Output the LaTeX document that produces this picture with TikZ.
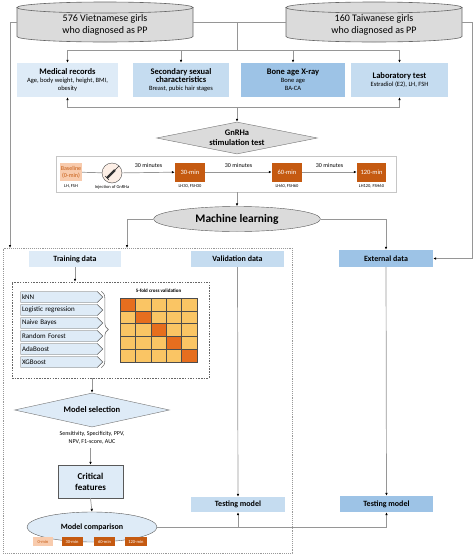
\documentclass[tikz,border=0pt]{standalone}
\usepackage{fontspec}
\setmainfont{Carlito}
\usetikzlibrary{shapes.geometric,shapes.symbols,arrows.meta,positioning,decorations.pathreplacing}
\definecolor{lblue}{RGB}{222,235,247}
\definecolor{mblue}{RGB}{197,220,240}
\definecolor{dblue}{RGB}{157,195,230}
\definecolor{lorange}{RGB}{248,203,173}
\definecolor{dorange}{RGB}{197,90,17}
\definecolor{cellfill}{RGB}{250,197,100}
\definecolor{celldiag}{RGB}{230,110,30}
\definecolor{linegrey}{RGB}{150,150,150}
\newcommand{\boxtitle}[1]{{\bfseries\fontsize{8.5}{10}\selectfont #1}}
\tikzset{
  cylpart/.style   = {draw=black!60, fill=gray!28, line width=0.6pt},
  cohort/.style    = {rectangle, minimum width=176pt, minimum height=29pt,
                      inner sep=0pt, align=center,
                      font=\fontsize{10}{12.5}\selectfont},
  infobox/.style   = {rectangle, align=center, inner sep=1pt,
                      minimum height=34pt, font=\fontsize{6.5}{8}\selectfont},
  databox/.style   = {rectangle, minimum height=16pt, inner sep=1pt,
                      font=\bfseries\fontsize{8}{10}\selectfont},
  timebox/.style   = {rectangle, fill=dorange, text=white, minimum width=30pt,
                      minimum height=19pt, font=\fontsize{6.5}{8}\selectfont},
  minibox/.style   = {rectangle, fill=dorange, text=white, minimum width=21pt,
                      minimum height=9pt, inner sep=0pt,
                      font=\fontsize{4.5}{5}\selectfont},
  tinylabel/.style = {inner sep=0pt, font=\fontsize{4.5}{5}\selectfont},
  model/.style     = {signal, signal to=east, draw=black!65, fill=lblue,
                      minimum width=82pt, minimum height=11pt, inner sep=1pt,
                      text width=74pt, align=left,
                      font=\fontsize{7}{8}\selectfont},
  decision/.style  = {diamond, draw=black!55, inner sep=0pt, align=center},
  cell/.style      = {draw=black!70, line width=0.4pt, fill=cellfill},
  plain/.style     = {draw=linegrey, line width=0.7pt},
  link/.style      = {plain, -{Latex[length=3pt,width=2.6pt,color=black]}},
}
\begin{document}
\begin{tikzpicture}[x=1pt, y=-1pt]
  \useasboundingbox (0,0) rectangle (474,555);

  % cohorts
  \foreach \cx in {105,374} {
    \filldraw [cylpart] (\cx-88,7.5) -- (\cx-88,36.5)
      arc [start angle=180, end angle=0, x radius=88, y radius=5.5]
      -- (\cx+88,7.5) -- cycle;
    \filldraw [cylpart] (\cx,7.5) ellipse [x radius=88, y radius=5.5];
  }
  \node [cohort] (vn) at (105,25) {576 Vietnamese girls\\who diagnosed as PP};
  \node [cohort] (tw) at (374,25) {160 Taiwanese girls\\who diagnosed as PP};
  \coordinate (mid)   at (237,22);
  \coordinate (fan)   at (237,50);
  \coordinate (gath)  at (237,107);
  \coordinate (devin) at (10,248);
  \coordinate (rc)    at (472,22);

  % collected data
  \node [infobox, fill=lblue, minimum width=101pt] (med) at (67.5,80)
    {\boxtitle{Medical records}\\Age, body weight, height, BMI,\\obesity};
  \node [infobox, fill=mblue, minimum width=96pt] (sec) at (181,80)
    {\boxtitle{Secondary sexual}\\\boxtitle{characteristics}\\Breast, pubic hair stages};
  \node [infobox, fill=dblue, minimum width=104pt] (bone) at (293,80)
    {\boxtitle{Bone age X-ray}\\Bone age\\BA-CA};
  \node [infobox, fill=mblue, minimum width=97pt] (lab) at (399.5,80)
    {\boxtitle{Laboratory test}\\Estradiol (E2), LH, FSH};

  \draw [plain] (vn.east |- mid) -- (tw.west |- mid);
  \draw [plain] (mid) -- (fan);
  \foreach \target in {med, sec, bone, lab}
    \draw [link] (fan) -| (\target.north);
  \draw [link] (gath) -| (med.south);
  \draw [link] (gath) -| (lab.south);

  % stimulation test
  \node [draw=gray!45, fill=white, minimum width=340pt, minimum height=36pt]
    (timeline) at (226,174) {};
  \node [decision, fill=gray!28, aspect=5, minimum width=161pt,
         minimum height=32pt, font=\bfseries\fontsize{8.5}{10}\selectfont]
    (gnrh) at (237,138) {GnRHa\\stimulation test};
  \draw [link] (gath) -- (gnrh.north);

  \node [rectangle, fill=lorange, text=dorange, minimum width=22pt,
         minimum height=18pt, inner sep=0pt, align=center,
         font=\fontsize{6}{7}\selectfont] (base) at (71,172) {Baseline\\(0-min)};
  \node [circle, draw=black!70, fill=lorange!30, minimum size=20pt,
         inner sep=0pt] (syr) at (112,173) {};
  \draw [line width=2.2pt, black!80] ([shift={(-5,5)}]syr.center)
    -- ([shift={(3,-3)}]syr.center);
  \draw [line width=0.6pt, black!80] ([shift={(3,-3)}]syr.center)
    -- ([shift={(7,-7)}]syr.center);
  \draw [line width=0.6pt, black!80] ([shift={(-7,3)}]syr.center)
    -- ([shift={(-3,7)}]syr.center);
  \node [timebox] (t30)  at (190,172)   {30-min};
  \node [timebox] (t60)  at (287,172)   {60-min};
  \node [timebox, minimum width=29pt] (t120) at (371.5,172) {120-min};

  \draw [plain] (base) -- (syr);
  \draw [link] (syr) -- (t30)
    node [midway, above=1pt, font=\fontsize{6}{7}\selectfont] {30 minutes};
  \draw [link] (t30) -- (t60)
    node [midway, above=1pt, font=\fontsize{6}{7}\selectfont] {30 minutes};
  \draw [link] (t60) -- (t120)
    node [midway, above=1pt, font=\fontsize{6}{7}\selectfont] {30 minutes};

  \node [tinylabel, below=3pt of base] {LH, FSH};
  \node [tinylabel, below=2pt of syr]  {Injection of GnRHa};
  \node [tinylabel, below=3pt of t30]  {LH30, FSH30};
  \node [tinylabel, below=3pt of t60]  {LH60, FSH60};
  \node [tinylabel, below=3pt of t120] {LH120, FSH60};

  % machine learning
  \node [ellipse, draw=black!65, fill=gray!28, minimum width=167pt,
         minimum height=25pt, inner sep=0pt,
         font=\bfseries\fontsize{11.5}{13}\selectfont] (ml) at (237,219)
    {Machine learning};
  \draw [link] (gnrh.south |- timeline.south) -- (ml.north);
  \coordinate (mlin) at (127,248);

  \node [draw=gray!80, densely dotted, line width=0.9pt, minimum width=289pt,
         minimum height=305pt] (dev) at (147.5,400.5) {};
  \draw [link] (vn.west |- mid) -| (devin);
  \draw [link] (ml.west) -| (mlin);

  \node [databox, fill=lblue, minimum width=92pt] (train) at (75,259) {Training data};
  \node [databox, fill=mblue, minimum width=93pt] (val) at (237.5,259) {Validation data};
  \node [databox, fill=dblue, minimum width=94pt, minimum height=17pt] (ext)
    at (386,258.5) {External data};
  \draw [link] (ml.east) -| (ext.north);
  \draw [link] (tw.east |- rc) -- (rc) |- (ext.east);

  % cross validation of the models
  \node [draw=black!60, dash pattern=on 1.5pt off 1.2pt, minimum width=197pt,
         minimum height=96pt] (cv) at (110.5,330) {};
  \draw [link] (train) -- (train |- cv.north);
  \foreach \name [count=\i] in {kNN, Logistic regression, Naive Bayes,
                                Random Forest, AdaBoost, XGBoost}
    \node [model] (m\i) at (59,284+13*\i) {\name};
  \draw [black!55, line width=0.6pt, decorate,
         decoration={brace, amplitude=7pt}]
    ([xshift=4pt]m1.north east) -- ([xshift=4pt]m6.south east);
  \node [font=\bfseries\fontsize{5}{6}\selectfont] (kfold) at (158.5,291)
    {5-fold cross validation};
  \foreach \r in {0,...,4} {
    \foreach \c in {0,...,4}
      \draw [cell] (120+15.4*\c,298+12.8*\r) rectangle ++(15.4,12.8);
    \draw [cell, fill=celldiag] (120+15.4*\r,298+12.8*\r) rectangle ++(15.4,12.8);
  }

  % selection and comparison
  \node [decision, fill=lblue, aspect=4.5, minimum width=155pt,
         minimum height=34pt, font=\bfseries\fontsize{8.5}{10}\selectfont]
    (sel) at (92,410) {Model selection};
  \draw [link] (sel.north |- cv.south) -- (sel.north);
  \node [align=center, inner sep=0pt, font=\fontsize{6}{7.5}\selectfont]
    (metrics) at (92,438) {Sensitivity, Specificity, PPV,\\NPV, F1-score, AUC};
  \node [rectangle, draw=black!65, fill=lblue, minimum width=65pt,
         minimum height=33pt, align=center,
         font=\bfseries\fontsize{9}{11}\selectfont] (crit) at (90.5,481.5)
    {Critical\\features};
  \draw [link, shorten <=4pt] (metrics.south -| crit.north) -- (crit.north);
  \node [ellipse, draw=black!65, fill=lblue, minimum width=130pt,
         minimum height=30pt, inner sep=0pt,
         font=\bfseries\fontsize{8}{10}\selectfont] (cmp) at (92,527)
    {Model comparison};
  \draw [link] (crit.south) -- (cmp.north);
  \node [minibox, fill=lorange, text=dorange, minimum width=20pt] (c0) at (43,541.5) {0-min};
  \node [minibox] (c30)  at (72,541.5)    {30-min};
  \node [minibox] (c60)  at (104.5,541.5) {60-min};
  \node [minibox, minimum width=22pt] (c120) at (136,541.5) {120-min};

  % testing
  \node [databox, fill=mblue, minimum width=94pt, minimum height=15pt] (test1)
    at (238,504.5) {Testing model};
  \node [databox, fill=dblue, minimum width=93pt] (test2) at (386.5,504)
    {Testing model};
  \draw [link] (val) -- (test1);
  \draw [link] (ext) -- (test2);
  \draw [link] (cmp.east) -| (test2.south);
  \draw [link] (cmp.east) -| (test1.south);
\end{tikzpicture}
\end{document}
